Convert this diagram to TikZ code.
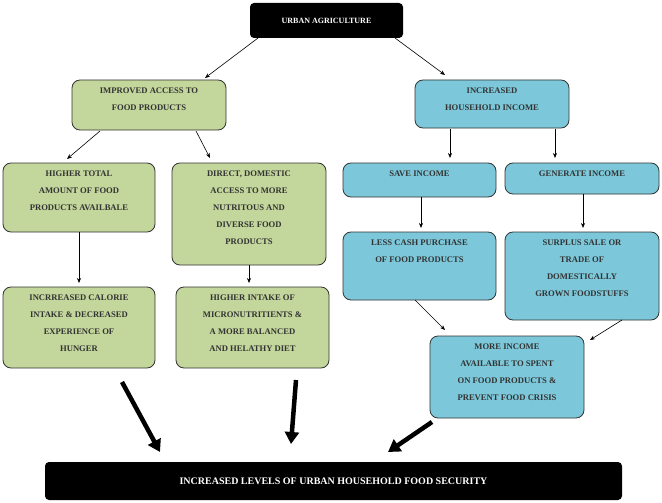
\documentclass[tikz,border=0pt]{standalone}
\usepackage{fontspec}
\setmainfont{Liberation Serif}
\usetikzlibrary{arrows.meta}
\definecolor{gr}{HTML}{C3D69B}
\definecolor{bl}{HTML}{7CC8DA}
\definecolor{tx}{HTML}{333333}
\begin{document}
\begin{tikzpicture}[x=1pt,y=-1pt,
 box/.style={draw=black!80,line width=0.8pt,rounded corners=8pt},
 lbl/.style={anchor=north,align=center,font=\fontsize{8.6}{17}\selectfont\bfseries,text=tx,inner sep=0pt},
 ar/.style={-{Stealth[length=5pt,width=4pt]},line width=0.6pt},
 big/.style={-{Triangle[length=12pt,width=14pt]},line width=4.5pt}]
\useasboundingbox (0,0) rectangle (662,503);
\newcommand{\bx}[7]{\draw[box,fill=#6] (#2,#3) rectangle (#4,#5); \coordinate (#1) at ({(#2+#4)/2},#3); \node[lbl] (#1t) at ({(#2+#4)/2},{#3+8}) {#7};}
\fill[rounded corners=4pt] (250,3) rectangle (403,38);
\node[font=\fontsize{8}{10}\selectfont\bfseries,text=white] (ua) at (326.5,20.5) {URBAN AGRICULTURE};
\bx{imp}{72}{80}{226}{130}{gr}{IMPROVED ACCESS TO\\FOOD PRODUCTS}
\bx{inc}{415}{80}{569}{128}{bl}{INCREASED\\HOUSEHOLD INCOME}
\bx{ht}{3}{163}{155}{232}{gr}{HIGHER TOTAL\\AMOUNT OF FOOD\\PRODUCTS AVAILBALE}
\bx{dd}{172}{163}{326}{265}{gr}{DIRECT, DOMESTIC\\ACCESS TO MORE\\NUTRITOUS AND\\DIVERSE FOOD\\PRODUCTS}
\bx{sv}{343}{163}{496}{197}{bl}{SAVE INCOME}
\bx{gn}{505}{163}{659}{194}{bl}{GENERATE INCOME}
\bx{lc}{343}{232}{496}{300}{bl}{LESS CASH PURCHASE\\OF FOOD PRODUCTS}
\bx{sp}{505}{232}{659}{320}{bl}{SURPLUS SALE OR\\TRADE OF\\DOMESTICALLY\\GROWN FOODSTUFFS}
\bx{ic}{3}{287}{155}{368}{gr}{INCRREASED CALORIE\\INTAKE \& DECREASED\\EXPERIENCE OF\\HUNGER}
\bx{hi}{176}{287}{329}{368}{gr}{HIGHER INTAKE OF\\MICRONUTRITIENTS \&\\A MORE BALANCED\\AND HELATHY DIET}
\bx{mi}{430}{336}{584}{418}{bl}{MORE INCOME\\AVAILABLE TO SPENT\\ON FOOD PRODUCTS \&\\PREVENT FOOD CRISIS}
\fill[rounded corners=4pt] (45,462) rectangle (622,500);
\node[font=\fontsize{10}{12}\selectfont\bfseries,text=white] (fs) at (333.5,481) {INCREASED LEVELS OF URBAN HOUSEHOLD FOOD SECURITY};
\coordinate (a1) at (258,38); \coordinate (a2) at (395,38);
\draw[ar] (a1) -- (205,78);
\draw[ar] (a2) -- (445,75);
\draw[ar] (100,131) -- (67,159);
\draw[ar] (196,131) -- (210,158);
\draw[ar] (450,129) -- (450,158);
\draw[ar] (555,129) -- (555,158);
\draw[ar] (ht |- 0,232) -- (ht |- 0,283);
\draw[ar] (dd |- 0,265) -- (dd |- 0,283);
\draw[ar] (421,197) -- (421,228);
\draw[ar] (583,194) -- (583,228);
\draw[ar] (415,300) -- (445,330);
\draw[ar] (622,320) -- (590,340);
\draw[big] (122,382) -- (160,452);
\draw[big] (296,380) -- (291,444);
\draw[big] (432,422) -- (388,452);
\end{tikzpicture}
\end{document}
